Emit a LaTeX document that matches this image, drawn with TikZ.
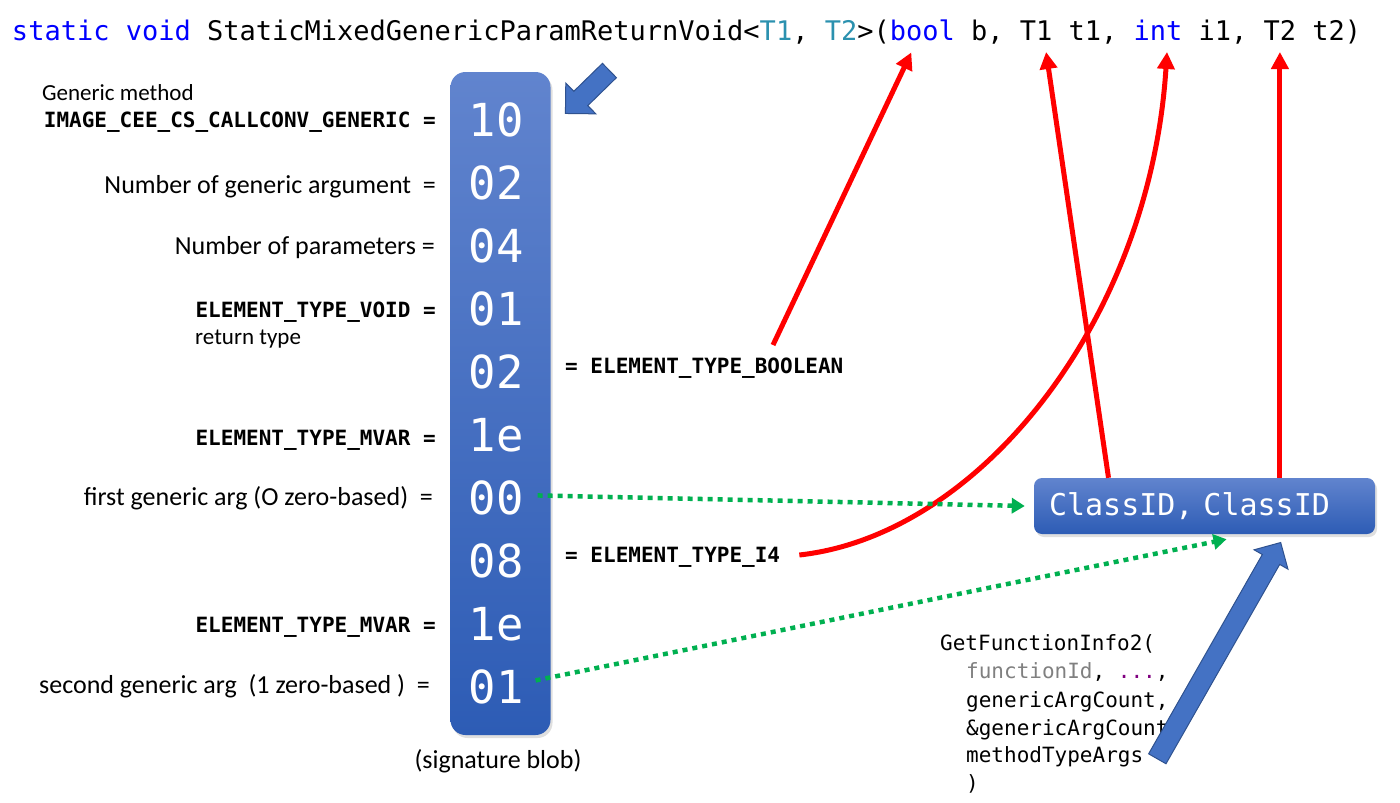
\documentclass[tikz,border=0pt]{standalone}
\usepackage{fontspec}
\setmainfont{Carlito}
\setmonofont{DejaVu Sans Mono}
\usetikzlibrary{positioning,calc,arrows.meta,shapes.arrows,shadows}

\definecolor{kwblue}{RGB}{0,0,255}
\definecolor{tyteal}{RGB}{43,145,175}
\definecolor{blobtop}{RGB}{97,132,206}
\definecolor{blobbot}{RGB}{45,92,181}
\definecolor{arrowblue}{RGB}{68,114,196}
\definecolor{arrowedge}{RGB}{47,82,143}
\definecolor{hintgreen}{RGB}{0,176,80}
\definecolor{argpurple}{RGB}{128,0,128}

\tikzset{
  sigtxt/.style={font=\ttfamily\fontsize{27}{32}\selectfont, inner sep=0pt, outer sep=0pt, anchor=base west},
  codetxt/.style={font=\ttfamily\fontsize{21}{25}\selectfont, inner sep=0pt, anchor=base west},
  monolbl/.style={font=\ttfamily\bfseries\fontsize{21}{25}\selectfont, inner sep=0pt},
  sanslbl/.style={font=\fontsize{26}{30}\selectfont, inner sep=0pt},
  smalllbl/.style={font=\fontsize{23}{27}\selectfont, inner sep=0pt},
  blobnum/.style={font=\ttfamily\fontsize{45.5}{50}\selectfont, text=white, inner sep=0pt, anchor=base},
  bluebox/.style={rounded corners=#1, top color=blobtop, bottom color=blobbot,
    drop shadow={opacity=0.25, shadow xshift=2pt, shadow yshift=-3pt}},
  refarrow/.style={draw=red, line width=5pt, -{Triangle[length=17pt,width=17pt]}},
  hintarrow/.style={draw=hintgreen, line width=4.5pt, dash pattern=on 5pt off 5pt,
    -{Triangle[length=13pt,width=15pt]}},
  blockarrow/.style={single arrow, draw=arrowedge, fill=arrowblue, line width=1pt,
    inner xsep=0pt, inner ysep=9.5pt, single arrow tip angle=90}
}

\begin{document}
\begin{tikzpicture}[x=1pt,y=-1pt]
  \useasboundingbox (0,0) rectangle (1400,803);

  % signature line
  \node[sigtxt] (sighead) at (12,40) {\textcolor{kwblue}{static void} StaticMixedGenericParamReturnVoid<\textcolor{tyteal}{T1}, \textcolor{tyteal}{T2}>(};
  \node[sigtxt] (tbool) at (sighead.base east) {\textcolor{kwblue}{bool}};
  \node[sigtxt] (sigb) at (tbool.base east) {\ b,\ \null};
  \node[sigtxt] (tT1) at (sigb.base east) {T1};
  \node[sigtxt] (sigc) at (tT1.base east) {\ t1,\ \null};
  \node[sigtxt] (tint) at (sigc.base east) {\textcolor{kwblue}{int}};
  \node[sigtxt] (sigd) at (tint.base east) {\ i1,\ \null};
  \node[sigtxt] (tT2) at (sigd.base east) {T2};
  \node[sigtxt] (sige) at (tT2.base east) {\ t2)};

  % signature blob
  \node[bluebox=15pt, minimum width=100pt, minimum height=663pt] (blob) at (500.5,403.5) {};
  \foreach \v [count=\i] in {10,02,04,01,02,1e,00,08,1e,01}
    \node[blobnum] (n\i) at (496,{136+63*(\i-1)}) {\v};
  \node[sanslbl, anchor=base] (blobcap) at (498,768) {(signature blob)};

  % left labels
  \node[smalllbl, anchor=base west] (genmeth) at (42,100) {Generic method};
  \node[monolbl, anchor=base east] (lconv) at (436,127) {IMAGE\_CEE\_CS\_CALLCONV\_GENERIC\ =};
  \node[sanslbl, anchor=base east] (lgcount) at (436,193) {Number of generic argument\ \ =};
  \node[sanslbl, anchor=base east] (lpcount) at (435,254) {Number of parameters =};
  \node[monolbl, anchor=base east] (lvoid) at (436,317) {ELEMENT\_TYPE\_VOID\ =};
  \node[smalllbl, anchor=base west] (lret) at (195,344) {return type};
  \node[monolbl, anchor=base east] (lmvar1) at (436,445) {ELEMENT\_TYPE\_MVAR\ =};
  \node[sanslbl, anchor=base east] (lfirst) at (433,505) {first generic arg (O zero-based)\ \ =};
  \node[monolbl, anchor=base east] (lmvar2) at (436,632) {ELEMENT\_TYPE\_MVAR\ =};
  \node[sanslbl, anchor=base east] (lsecond) at (430,693) {second generic arg\ \ (1 zero-based )\ \ =};

  % right labels
  \node[monolbl, anchor=base west] (eqbool) at (565,373) {=\ ELEMENT\_TYPE\_BOOLEAN};
  \node[monolbl, anchor=base west] (eqi4) at (565,562) {=\ ELEMENT\_TYPE\_I4};
  \coordinate (boolfoot) at (773,345);

  % class ids
  \node[bluebox=8pt, minimum width=341pt, minimum height=56pt, text width=311pt, inner xsep=15pt,
    align=left, text=white, font=\ttfamily\fontsize{30}{34}\selectfont] (classid) at (1204.5,506) {ClassID, ClassID};

  % red links to the parameters
  \draw[refarrow] (boolfoot) -- ($(tbool.south)+(-11,12)$);
  \draw[refarrow] ([xshift=-96pt]classid.north) -- ($(tT1.south)+(10,12)$);
  \draw[refarrow] ($(eqi4.base east)+(19,-7)$) .. controls +(181,-20) and +(-17,268) .. ($(tint.south)+(9,12)$);
  \draw[refarrow] (classid.north -| tT2.south) -- ($(tT2.south)+(0,12)$);

  % green hints
  \draw[hintarrow] ($(n7.east)+(14,-2)$) -- ($(classid.west)+(-9,0)$);
  \draw[hintarrow] ($(n10.east)+(12,-6)$) -- ($(classid.south)+(22,5)$);

  % profiler call
  \node[codetxt] (gf0) at (940,650) {GetFunctionInfo2(};
  \node[codetxt] (gf1) at (966,678) {\textcolor{gray}{functionId}, \textcolor{argpurple}{...},};
  \node[codetxt] (gf2) at (966,707) {genericArgCount,};
  \node[codetxt] (gf3) at (966,735) {\&genericArgCount,};
  \node[codetxt] (gf4) at (966,762) {methodTypeArgs};
  \node[codetxt] (gf5) at (966,790) {)};

  % block arrows
  \node[blockarrow, minimum height=61.5pt, single arrow head extend=11.5pt,
    rotate=224.3] (sigptr) at (591,88.5) {};
  \node[blockarrow, minimum height=249pt, single arrow head extend=9.5pt,
    rotate=60.3] (infoptr) at (1216.5,655) {};
\end{tikzpicture}
\end{document}
